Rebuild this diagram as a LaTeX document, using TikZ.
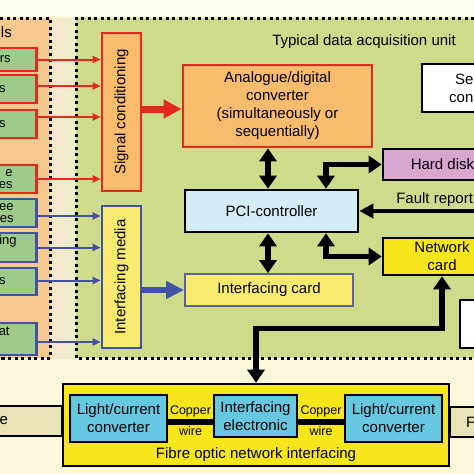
\documentclass[tikz,border=0pt]{standalone}
\usepackage{fontspec}
\setmainfont{Liberation Sans}
\usepackage{graphicx}
\usetikzlibrary{shapes,positioning,arrows.meta}

\definecolor{bgcream}{HTML}{FBF7DA}
\definecolor{topwhite}{HTML}{FDFCF1}
\definecolor{orpanel}{HTML}{F5C98E}
\definecolor{grpanel}{HTML}{CDDB8B}
\definecolor{inpgreen}{HTML}{9DCC8A}
\definecolor{sigred}{HTML}{E42A1F}
\definecolor{sigorange}{HTML}{F8BC6C}
\definecolor{medblue}{HTML}{4253A4}
\definecolor{medyellow}{HTML}{F8EA6E}
\definecolor{cardedge}{HTML}{5A6298}
\definecolor{pciblue}{HTML}{D4ECF5}
\definecolor{diskpink}{HTML}{D8A6CE}
\definecolor{netyellow}{HTML}{F8E61C}
\definecolor{lcblue}{HTML}{66C8E0}
\definecolor{cabletan}{HTML}{E8E3B6}

\begin{document}
\begin{tikzpicture}[x=1pt, y=-1pt,
      font=\fontsize{15}{18}\selectfont,
      mybox/.style = {rectangle, draw, align=center, inner sep=1pt},
      rb/.style = {mybox, draw=sigred, fill=sigorange, line width=2.8pt},
      bb/.style = {mybox, draw=medblue, fill=medyellow, line width=2.8pt},
      kb/.style = {mybox, line width=2.6pt},
      lc/.style = {mybox, fill=lcblue, line width=2pt},
      lbox/.style = {rectangle, draw, fill=inpgreen, line width=2.8pt, minimum height=28pt,
                     text width=40pt, align=right, inner ysep=1pt, anchor=east,
                     font=\fontsize{13}{11.5}\selectfont},
      cable/.style = {rectangle, draw, fill=cabletan, line width=2pt, minimum height=30pt, text width=20pt},
      cu/.style = {font=\fontsize{12.5}{14}\selectfont, inner sep=1.5pt},
      dots/.style = {line width=3pt, dash pattern=on 3pt off 3.5pt},
      redarr/.style = {draw=sigred, line width=2pt, -{Triangle[width=7pt,length=8pt]}},
      bluearr/.style = {draw=medblue, line width=2pt, -{Triangle[width=7pt,length=8pt]}},
      bigred/.style = {draw=sigred, line width=7pt, -{Triangle[width=18pt,length=18pt]}},
      bigblue/.style = {draw=medblue, line width=6.5pt, -{Triangle[width=17pt,length=18pt]}},
      bus/.style = {line width=5.5pt, {Triangle[width=17pt,length=13pt]}-{Triangle[width=17pt,length=13pt]}},
      faultarr/.style = {line width=4pt, -{Triangle[width=14pt,length=14pt]}},
      wire/.style = {line width=6pt}
      ]
      \useasboundingbox (0,0) rectangle (474,474);
      \clip (0,0) rectangle (474,474);
      % backgrounds
      \fill[bgcream] (0,0) rectangle (474,474);
      \fill[topwhite] (0,0) rectangle (474,16);
      \fill[orpanel] (0,18) rectangle (50,358);
      \shade[left color=orpanel!45!white, middle color=white!60!bgcream, right color=grpanel!45!white] (50,18) rectangle (76,358);
      \fill[grpanel] (76,18) rectangle (474,358);
      \draw[dots] (0,18) -| (50,358) -- (0,358);
      \draw[dots] (474,18) -- (76,18) -- (76,358) -- (474,358);

      \node[anchor=east, inner sep=0pt] (sig) at (12,32) {ls};
      \node (unit) at (364,42) {Typical data acquisition unit};

      % input boxes
      \node[lbox, draw=sigred, minimum height=23pt, inner xsep=26pt] (s1) at (38,59.5) {rs};
      \node[lbox, draw=sigred, inner xsep=31pt] (s2) at (38,89) {s};
      \node[lbox, draw=sigred, inner xsep=31pt] (s3) at (38,124) {s};
      \node[lbox, draw=sigred, inner xsep=24pt] (s4) at (38,179) {e\\es};
      \node[lbox, draw=medblue, inner xsep=23pt] (s5) at (38,213) {ee\\es};
      \node[lbox, draw=medblue, minimum height=29pt, inner xsep=20pt] (s6) at (38,247.5) {ing\\\strut};
      \node[lbox, draw=medblue, minimum height=27pt, inner xsep=31pt] (s7) at (38,281.5) {s};
      \node[lbox, draw=medblue, minimum height=32pt, inner xsep=27pt] (s8) at (38,339) {at\\\strut};

      % processing blocks
      \node[rb, minimum width=39pt, minimum height=158pt] (sigc) at (121.5,112) {\rotatebox{90}{Signal conditioning}};
      \node[bb, minimum width=39pt, minimum height=142pt] (intm) at (121.5,277) {\rotatebox{90}{Interfacing media}};
      \node[rb, minimum width=189pt, minimum height=82pt] (adc) at (277.5,106) {Analogue/digital\\converter\\(simultaneously or\\sequentially)};
      \node[kb, fill=pciblue, minimum width=173pt, minimum height=42pt] (pci) at (271.5,211) {PCI-controller};
      \node[mybox, draw=cardedge, fill=medyellow, line width=1.8pt, minimum width=168pt, minimum height=32pt] (icard) at (269,290) {Interfacing card};
      \node[kb, fill=diskpink, minimum width=119pt, minimum height=31pt] (hdisk) at (442.5,164.5) {Hard disk};
      \node[kb, fill=netyellow, minimum width=118pt, minimum height=37pt] (ncard) at (442,256.5) {Network\\card};
      \node[kb, fill=white, minimum width=100pt, minimum height=48pt] (sbox) at (472,88) {};
      \node[anchor=west, align=left, inner sep=0pt] (sboxtxt) at (449,88) {\hspace*{6pt}Se\\con};
      \node[kb, fill=white, minimum width=60pt, minimum height=48pt] (wbox) at (490,324) {};
      \coordinate (fault) at (510,211);

      % fibre optic interfacing
      \node[cable, anchor=east, align=right, inner xsep=54pt] (cabl) at (63,421) {e};
      \node[cable, anchor=west, align=left, inner xsep=16pt] (cabr) at (449,422) {F};
      \node[kb, fill=netyellow, minimum width=386pt, minimum height=82pt] (fibre) at (256,425) {};
      \node (fibtxt) at (256,455) {Fibre optic network interfacing};
      \node[lc, minimum width=97pt, minimum height=47pt] (lc1) at (118.5,418.5) {Light/current\\converter};
      \node[lc, minimum width=83pt, minimum height=42pt] (ie) at (255.5,416) {Interfacing\\electronic};
      \node[lc, minimum width=97pt, minimum height=47pt] (lc2) at (393.5,418.5) {Light/current\\converter};
      \draw[wire] ([yshift=-3pt]lc1.east) -- node[cu, above] (cu1) {Copper} node[cu, below] (w1) {wire} ([yshift=-3pt]lc1.east -| ie.west);
      \draw[wire] ([yshift=-3pt]lc2.west -| ie.east) -- node[cu, above] (cu2) {Copper} node[cu, below] (w2) {wire} ([yshift=-3pt]lc2.west);

      % signal arrows
      \draw[redarr] (s1.east) -- (s1.east -| sigc.west);
      \draw[redarr] ([yshift=3pt]s2.east) -- ([yshift=3pt]s2.east -| sigc.west);
      \draw[redarr] ([yshift=7pt]s3.east) -- ([yshift=7pt]s3.east -| sigc.west);
      \draw[redarr] (s4.east) -- (s4.east -| sigc.west);
      \draw[bluearr] ([yshift=-3pt]s5.east) -- ([yshift=-3pt]s5.east -| intm.west);
      \draw[bluearr] (s6.east) -- (s6.east -| intm.west);
      \draw[bluearr] ([yshift=1pt]s7.east) -- ([yshift=1pt]s7.east -| intm.west);
      \draw[bluearr] ([yshift=-3pt]s8.east) -- ([yshift=-3pt]s8.east -| intm.west);
      \draw[bigred] ([yshift=3pt]sigc.east) -- ([yshift=3pt]sigc.east -| adc.west);
      \draw[bigblue] ([yshift=-13pt]intm.east) -- ([yshift=-13pt]intm.east -| icard.west);

      % buses
      \draw[bus] ([xshift=-3.5pt]pci.north) -- ([xshift=-3.5pt]pci.north |- adc.south);
      \draw[bus] ([xshift=-3.5pt]pci.south) -- ([xshift=-3.5pt]pci.south |- icard.north);
      \draw[bus] (hdisk.west) -| ([xshift=54.5pt]pci.north);
      \draw[bus] (ncard.west) -| ([xshift=54.5pt]pci.south);
      \draw[bus] (ncard.south) -- ++(0,52) -| (fibre.north);
      \draw[faultarr] (fault) -- node[above, pos=0.5, inner sep=2pt] (frep) {Fault report} (pci.east);
    \end{tikzpicture}
\end{document}
